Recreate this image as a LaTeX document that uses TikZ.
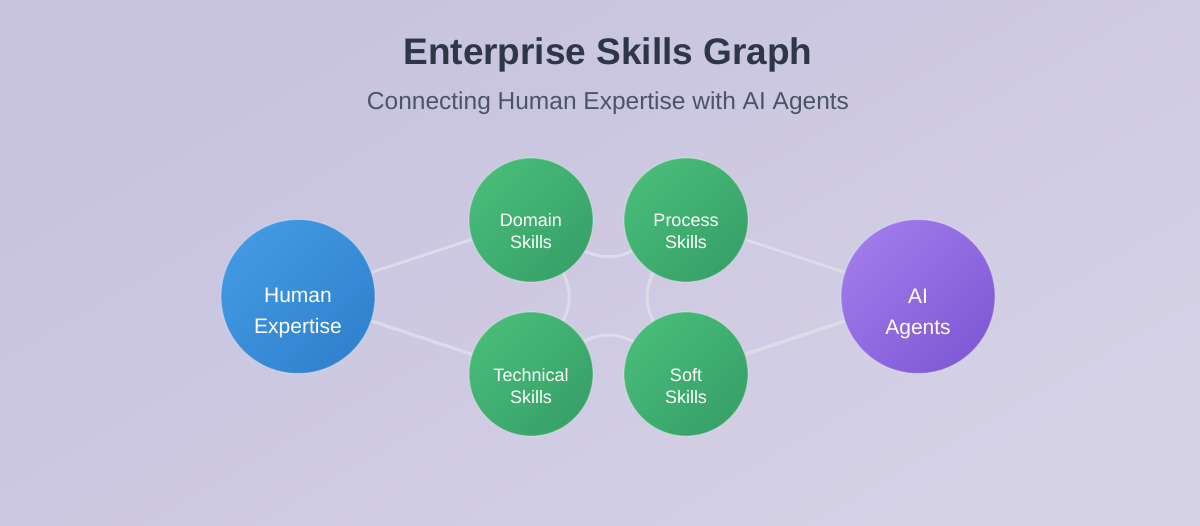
\documentclass[tikz,border=0pt]{standalone}
\usepackage{fontspec}
\setmainfont{Liberation Sans}
\usetikzlibrary{shadings}
\definecolor{bgA}{HTML}{C7C2DE}
\definecolor{bgB}{HTML}{D5D1E5}
\definecolor{titlec}{HTML}{2D3748}
\definecolor{subc}{HTML}{4A5568}
\definecolor{blueA}{HTML}{4299E1}
\definecolor{blueB}{HTML}{3182CE}
\definecolor{purA}{HTML}{9F7AEA}
\definecolor{purB}{HTML}{805AD5}
\definecolor{grnA}{HTML}{48BB78}
\definecolor{grnB}{HTML}{38A169}
\definecolor{linkc}{HTML}{DDE1EC}
\pgfdeclarelayer{bg}
\pgfdeclarelayer{links}
\pgfsetlayers{bg,links,main}
\begin{document}
\begin{tikzpicture}[x=1pt,y=-1pt,
  bubble/.style={circle, inner sep=0pt, draw=white, draw opacity=0.3, line width=1.2pt},
  big/.style={bubble, minimum size=154pt},
  small/.style={bubble, minimum size=124pt, top color=grnA, bottom color=grnB, shading angle=45},
  bigtext/.style={text=white, align=center, anchor=base, font=\fontsize{21}{31}\selectfont},
  smalltext/.style={text=white, align=center, anchor=base, font=\fontsize{18}{22.5}\selectfont},
  link/.style={draw=linkc, line width=3pt, opacity=0.8}
]
\begin{pgfonlayer}{bg}
\shade[top color=bgA, bottom color=bgB, shading angle=30] (0,0) rectangle (1200,526);
\end{pgfonlayer}
\useasboundingbox (0,0) rectangle (1200,526);

\node[text=titlec, anchor=base, font=\bfseries\fontsize{37}{40}\selectfont] (title) at (608,65) {Enterprise Skills Graph};
\node[text=subc, anchor=base, font=\fontsize{24.5}{28}\selectfont] (subtitle) at (608,110) {Connecting Human Expertise with AI Agents};

\node[big, top color=blueA, bottom color=blueB, shading angle=45] (human) at (298,296.5) {};
\node[big, top color=purA, bottom color=purB, shading angle=45] (ai) at (918,296.5) {};
\node[small] (domain) at (531,220) {};
\node[small] (process) at (686,220) {};
\node[small] (technical) at (531,374) {};
\node[small] (soft) at (686,374) {};

\node[bigtext] (humant) at (298,334) {Human\\Expertise};
\node[bigtext] (ait) at (918,335) {AI\\Agents};
\node[smalltext] (domaint) at (531,249) {Domain\\Skills};
\node[smalltext] (processt) at (686,249) {Process\\Skills};
\node[smalltext] (technicalt) at (531,404) {Technical\\Skills};
\node[smalltext] (softt) at (686,404) {Soft\\Skills};

\begin{pgfonlayer}{links}
\draw[link] (human) -- (domain);
\draw[link] (human) -- (technical);
\draw[link] (process) -- (ai);
\draw[link] (soft) -- (ai);
\draw[link] (domain.center) .. controls (608.5,269) .. (process.center);
\draw[link] (technical.center) .. controls (608.5,322) .. (soft.center);
\draw[link] (domain.center) .. controls (582,297) .. (technical.center);
\draw[link] (process.center) .. controls (634,297) .. (soft.center);
\end{pgfonlayer}
\end{tikzpicture}
\end{document}
